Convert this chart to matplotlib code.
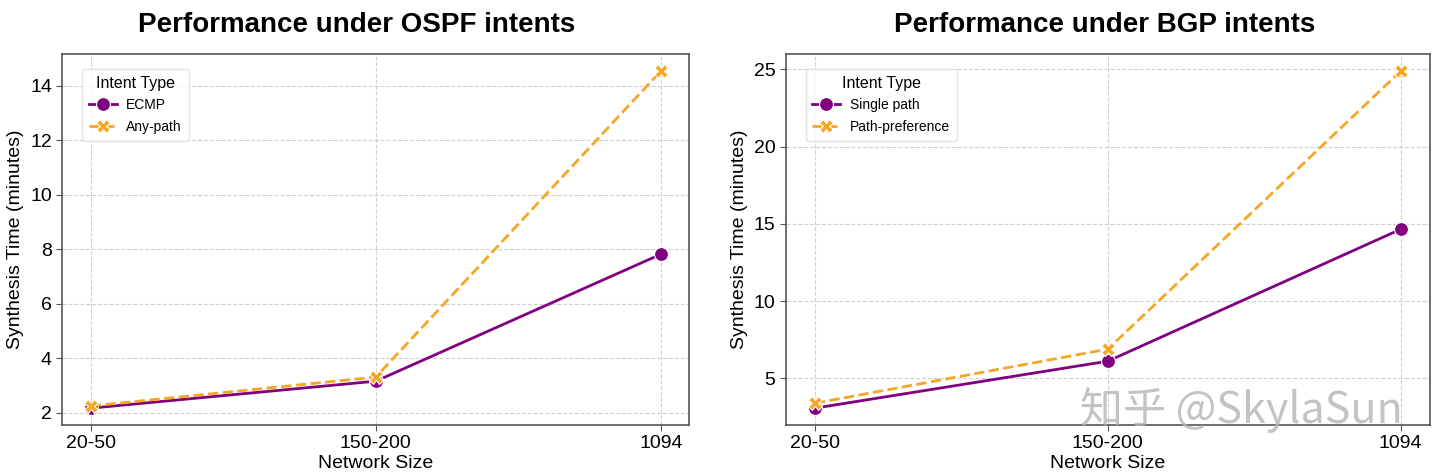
import matplotlib
matplotlib.use("Agg")
import matplotlib.pyplot as plt

plt.rcParams['font.family'] = ['Liberation Sans', 'DejaVu Sans']

sizes = ["20-50", "150-200", "1094"]
ospf_ecmp = [2.17, 3.16, 7.82]
ospf_anypath = [2.25, 3.31, 14.54]
bgp_single = [3.08, 6.12, 14.66]
bgp_pref = [3.40, 6.90, 24.89]

titles = ["Performance under OSPF intents", "Performance under BGP intents"]
labels = [("ECMP", "Any-path"), ("Single path", "Path-preference")]
data = [(ospf_ecmp, ospf_anypath), (bgp_single, bgp_pref)]
yticks = [[2, 4, 6, 8, 10, 12, 14], [5, 10, 15, 20, 25]]
title_x = [0.469, 0.495]

fig = plt.figure(figsize=(14.4, 4.75), dpi=100)
ax1 = fig.add_axes([62.3/1440, 1-425/475, (689.3-62.3)/1440, (425-54.3)/475])
ax2 = fig.add_axes([785.7/1440, 1-425/475, (1430-785.7)/1440, (425-54.3)/475])

purple = "#800080"
orange = "#F5A623"
x = list(range(len(sizes)))
for ax, title, (l1, l2), (s1, s2), yt, tx in zip([ax1, ax2], titles, labels, data, yticks, title_x):
    ax.plot(x, s1, color=purple, lw=2, marker='o', markersize=10,
            markeredgecolor='white', markeredgewidth=0.8, label=l1, zorder=3)
    ax.plot(x, s2, color=orange, lw=2, ls=(0, (3.7, 1.6)), marker='X', markersize=10,
            markeredgecolor='white', markeredgewidth=0.8, label=l2, zorder=3)
    ax.set_xticks(x)
    ax.set_xticklabels(sizes)
    ax.set_yticks(yt)
    ax.tick_params(labelsize=14, length=4, color='#555555')
    ax.set_xlabel("Network Size", fontsize=14, labelpad=2)
    ax.set_ylabel("Synthesis Time (minutes)", fontsize=14)
    ax.set_title(title, fontsize=20, fontweight='bold', pad=16, x=tx)
    ax.grid(True, ls='--', color='#cccccc', lw=0.8, alpha=0.9)
    ax.set_axisbelow(True)
    ax.margins(x=0.05, y=0.05)
    for sp in ax.spines.values():
        sp.set_color('#555555')
        sp.set_linewidth(1.2)
    leg = ax.legend(title="Intent Type", loc='upper left', fontsize=10,
                    title_fontsize=11.5, bbox_to_anchor=(0.02, 0.98),
                    framealpha=0.8, edgecolor='#dddddd', handlelength=2.0,
                    handletextpad=0.7, labelspacing=0.55, borderpad=0.5)

fig.text(0.862, 0.137, "知乎 @SkylaSun", fontsize=31, color='#b5b5b5', alpha=0.8,
         family=['Noto Sans CJK SC', 'DejaVu Sans'], ha='center', va='center')

fig.savefig("out.png", dpi=100)
